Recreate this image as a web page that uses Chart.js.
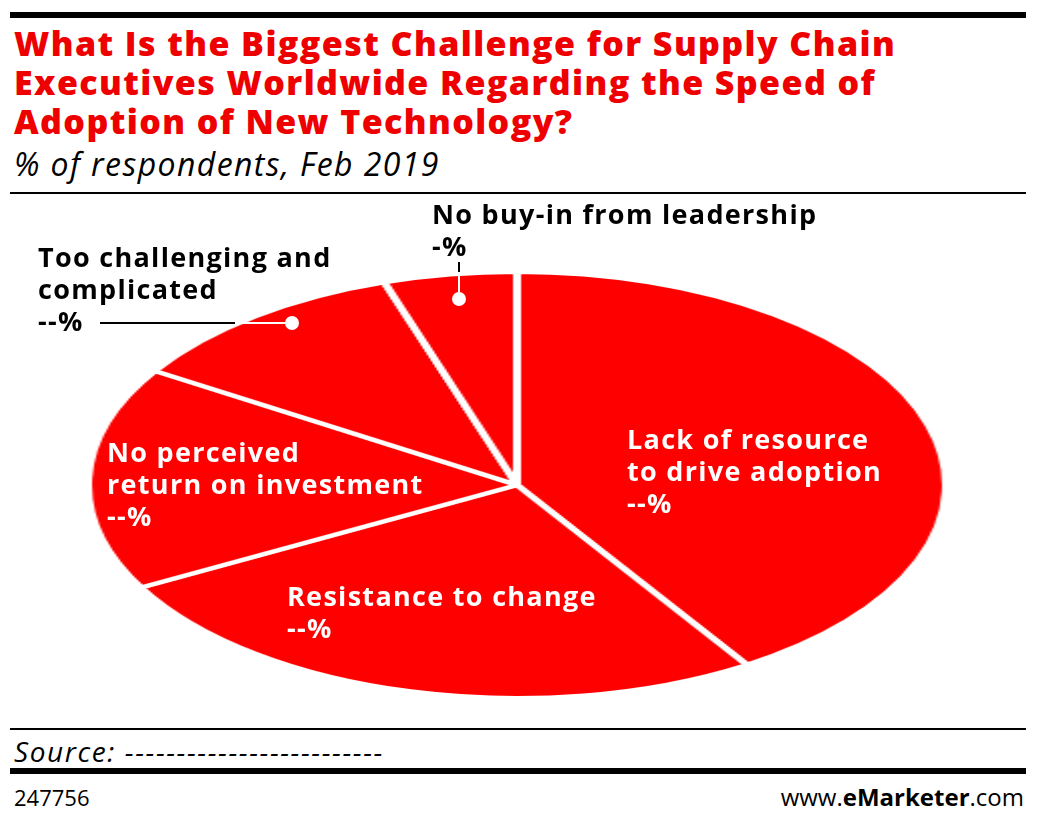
<!DOCTYPE html>
<html><head><meta charset="utf-8">
<script src="https://cdn.jsdelivr.net/npm/chart.js@4"></script>
<style>
body{margin:0;width:1038px;height:821px;background:#fff;position:relative;overflow:hidden;font-family:"Open Sans","DejaVu Sans",sans-serif}
.a{position:absolute;white-space:nowrap}
.t{left:14px;top:24px;color:#e00;font-weight:800;font-size:34px;line-height:39px;letter-spacing:1.4px}
.l{font-weight:700;font-size:27px;line-height:32px;letter-spacing:1.3px}
.w{color:#fff}
#c{position:absolute;left:302px;top:270px;transform:scaleX(2.014);transform-origin:center}
</style></head><body>
<div class="a" style="left:10px;top:12px;width:1016px;height:6px;background:#000"></div>
<div class="a t">What Is the Biggest Challenge for Supply Chain<br>Executives Worldwide Regarding the Speed of<br>Adoption of New Technology?</div>
<div class="a" style="left:14px;top:142px;font-size:32px;font-style:italic;letter-spacing:1.4px">% of respondents, Feb 2019</div>
<div class="a" style="left:10px;top:192px;width:1016px;height:2px;background:#000"></div>
<canvas id="c" width="430" height="430" style="width:430px;height:430px"></canvas>
<div class="a" style="left:100px;top:322px;width:135px;height:2px;background:#000"></div>
<div class="a" style="left:235px;top:322px;width:57px;height:2px;background:#fff"></div>
<div class="a" style="left:285px;top:316px;width:14px;height:14px;border-radius:50%;background:#fff"></div>
<div class="a" style="left:458px;top:262px;width:2px;height:10px;background:#000"></div>
<div class="a" style="left:458px;top:272px;width:2px;height:27px;background:#fff"></div>
<div class="a" style="left:452px;top:292px;width:14px;height:14px;border-radius:50%;background:#fff"></div>
<div class="a l" style="left:432px;top:198px">No buy-in from leadership<br>-%</div>
<div class="a l" style="left:38px;top:241px">Too challenging and<br>complicated<br>--%</div>
<div class="a l w" style="left:107px;top:436px">No perceived<br>return on investment<br>--%</div>
<div class="a l w" style="left:627px;top:423px">Lack of resource<br>to drive adoption<br>--%</div>
<div class="a l w" style="left:287px;top:580px">Resistance to change<br>--%</div>
<div class="a" style="left:10px;top:728px;width:1016px;height:2px;background:#000"></div>
<div class="a" style="left:14px;top:732px;font-size:28px;font-style:italic;letter-spacing:1.6px">Source: -------------------------</div>
<div class="a" style="left:10px;top:768px;width:1016px;height:6px;background:#000"></div>
<div class="a" style="left:14px;top:782px;font-size:22px">247756</div>
<div class="a" style="right:14px;top:780px;font-size:24px">www.<b>eMarketer</b>.com</div>
<script>
const categories = ["Lack of resource to drive adoption", "Resistance to change", "No perceived return on investment", "Too challenging and complicated", "No buy-in from leadership"];
const values = [41, 26, 17, 11, 5];
new Chart(document.getElementById("c"), {
  type: "pie",
  data: {labels: categories, datasets: [{data: values, backgroundColor: "#f00", borderColor: "#fff", borderWidth: 4}]},
  options: {responsive: false, animation: false, layout: {padding: 0},
    plugins: {legend: {display: false}, tooltip: {enabled: false}}}
});
</script>
</body></html>
